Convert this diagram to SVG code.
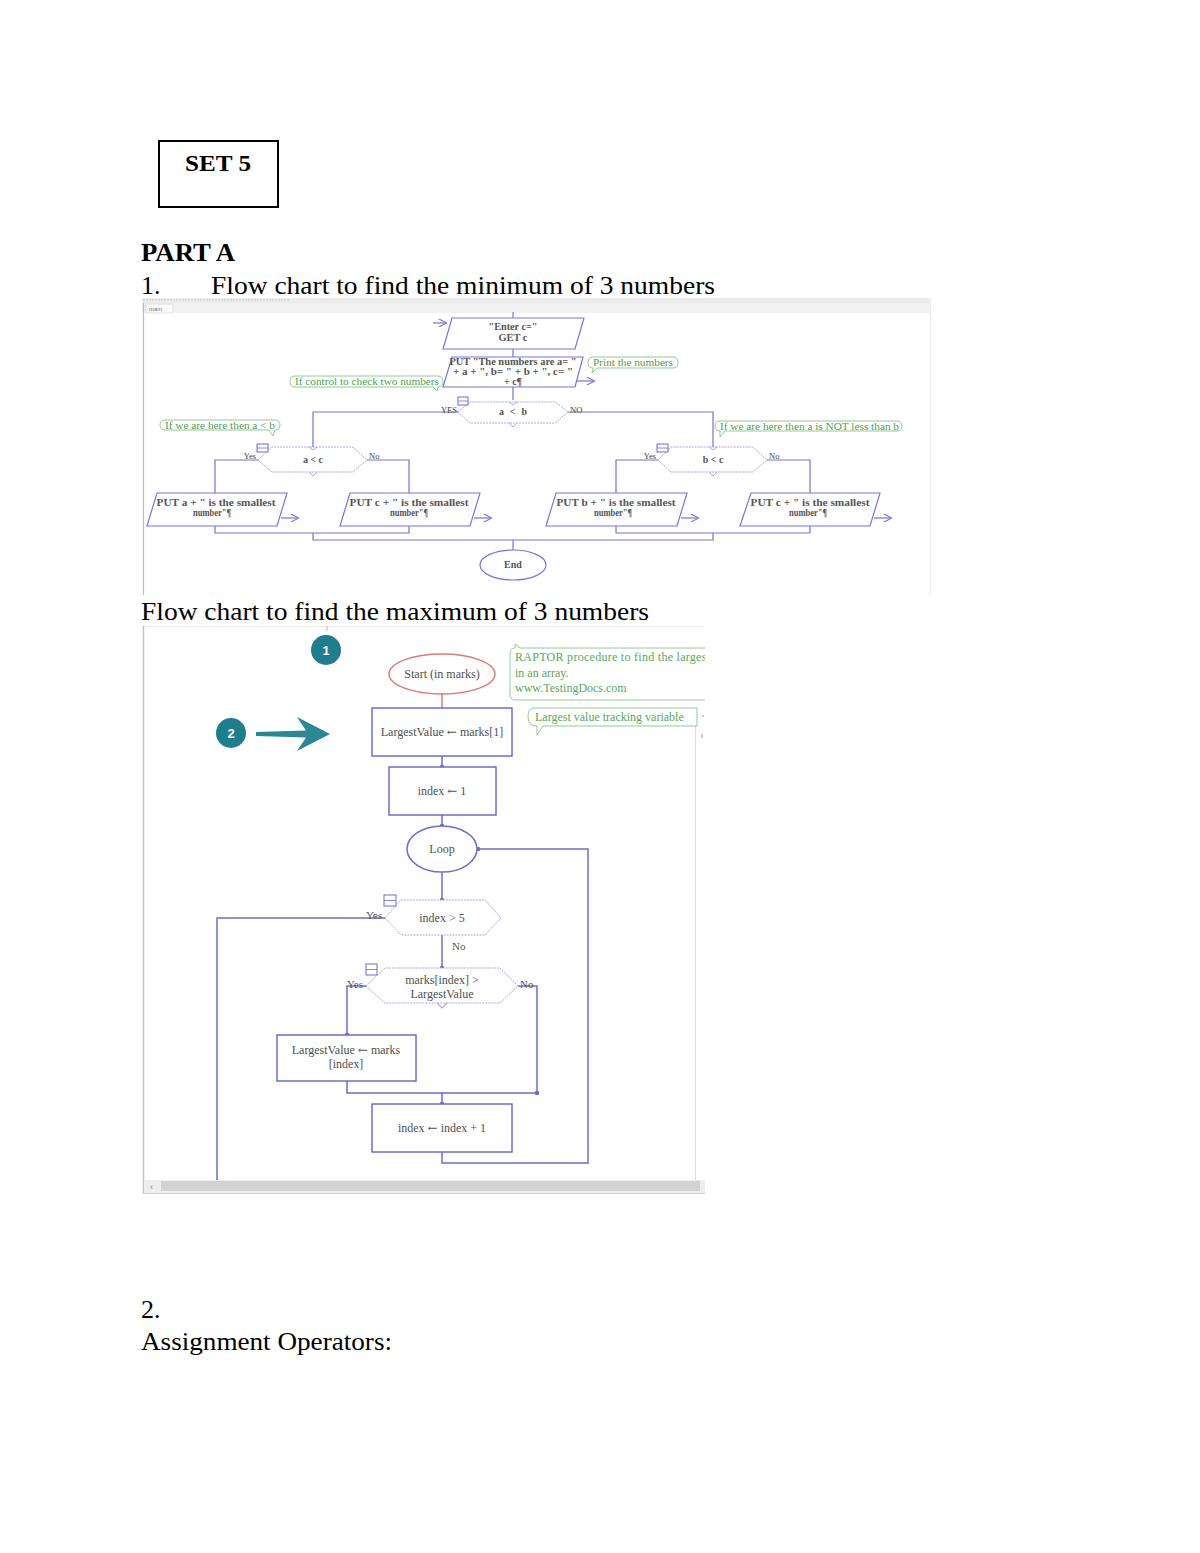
<svg xmlns="http://www.w3.org/2000/svg" width="1200" height="1553" viewBox="0 0 1200 1553">
<style>
.pg{fill:#000}
.b{font-weight:bold}
.t1{font-family:"Liberation Serif",serif;font-size:10px;font-weight:bold;fill:#555;text-anchor:middle}
.lb{font-family:"Liberation Serif",serif;font-size:8.5px;fill:#444}
.cm{font-family:"Liberation Serif",serif;font-size:10px;fill:#4f9f4f}
.cmb{fill:#fff;stroke:#93c993;stroke-width:1}
.sh{fill:#fff;stroke:#7676dc;stroke-width:1.2}
.dec{fill:#fff;stroke:#a7a7ea;stroke-width:1;stroke-dasharray:2 1}
.conn{fill:none;stroke:#7474dc;stroke-width:1.2}
.t2{font-family:"Liberation Serif",serif;font-size:12px;fill:#505050;text-anchor:middle}
.ar{font-family:"DejaVu Serif",serif}
.lb2{font-family:"Liberation Serif",serif;font-size:11px;fill:#555}
.cm2{font-family:"Liberation Serif",serif;font-size:12px;fill:#5aa85a}
.sh2{fill:#fff;stroke:#6c6cd8;stroke-width:1.5}
.conn2{fill:none;stroke:#6c6cd8;stroke-width:1.5}
.ico{fill:#fff;stroke:#6c6cd8;stroke-width:1}
</style>
<defs>
<marker id="oa" viewBox="0 0 10 10" refX="9" refY="5" markerWidth="7" markerHeight="7" orient="auto"><path d="M0,0 L10,5 L0,10" fill="none" stroke="#7474dc" stroke-width="1.3"/></marker>
<marker id="dot" viewBox="0 0 6 6" refX="3" refY="3" markerWidth="3" markerHeight="3"><circle cx="3" cy="3" r="3" fill="#6c6cd8"/></marker>
<clipPath id="clip2"><rect x="142" y="626" width="563" height="568"/></clipPath>
</defs>
<rect width="1200" height="1553" fill="#fff"/>

<!-- Page headings -->
<g id="headings" font-family="Liberation Serif, Times New Roman, serif">
<g id="set5">
<rect x="159" y="141" width="119" height="66" fill="none" stroke="#000" stroke-width="2"/>
<text class="pg b" x="185" y="171" font-size="24" textLength="66" lengthAdjust="spacingAndGlyphs">SET 5</text>
</g>
<text class="pg b" x="141" y="261" font-size="25" textLength="94" lengthAdjust="spacingAndGlyphs">PART A</text>
<text class="pg" x="141" y="294" font-size="26">1.</text>
<text class="pg" x="211" y="294" font-size="26" textLength="504" lengthAdjust="spacingAndGlyphs">Flow chart to find the minimum of 3 numbers</text>
<text class="pg" x="141" y="620" font-size="26" textLength="508" lengthAdjust="spacingAndGlyphs">Flow chart to find the maximum of 3 numbers</text>
<text class="pg" x="141" y="1318" font-size="26">2.</text>
<text class="pg" x="141" y="1350" font-size="26" textLength="251" lengthAdjust="spacingAndGlyphs">Assignment Operators:</text>
</g>

<!-- ===== Flowchart 1 frame ===== -->
<g id="frame1">
<rect x="142" y="298" width="789" height="297" fill="#fff"/>
<rect x="142" y="298" width="789" height="5" fill="#ececec"/>
<line x1="143" y1="300" x2="290" y2="300" stroke="#c8c8c8" stroke-width="1" stroke-dasharray="2 1"/>
<rect x="142" y="303" width="789" height="10" fill="#f1f1f1"/>
<rect x="146" y="304" width="27" height="9" fill="#fafafa" stroke="#cfcfcf" stroke-width="0.6"/>
<text x="149" y="311" font-family="Liberation Sans,sans-serif" font-size="6" fill="#777">main</text>
<line x1="143.5" y1="303" x2="143.5" y2="595" stroke="#bdbdbd" stroke-width="1.2"/>
<line x1="930.5" y1="303" x2="930.5" y2="595" stroke="#ececec" stroke-width="1"/>
</g>

<g id="conn1" class="conn">
<path d="M513,312 V318"/>
<path d="M433,323 H446" marker-end="url(#oa)"/>
<path d="M513,349 V357"/>
<path d="M577,381 H594" marker-end="url(#oa)"/>
<path d="M513,387 V400"/>
<path d="M458,412 H313 V447"/>
<path d="M568,412 H713 V447"/>
<path d="M258,460 H215 V493"/>
<path d="M367,460 H409 V493"/>
<path d="M658,460 H616 V493"/>
<path d="M767,460 H810 V493"/>
<path d="M281,518 H298" marker-end="url(#oa)"/>
<path d="M474,518 H491" marker-end="url(#oa)"/>
<path d="M681,518 H698" marker-end="url(#oa)"/>
<path d="M874,518 H891" marker-end="url(#oa)"/>
<path d="M215,526 V533 H409 V526"/>
<path d="M616,526 V533 H810 V526"/>
<path d="M313,533 V540 H713 V533"/>
<path d="M513,540 V550"/>
</g>

<g id="in1">
<polygon class="sh" points="452,318 584,318 575,349 443,349"/>
<text class="t1" x="513" y="330" textLength="49" lengthAdjust="spacingAndGlyphs">"Enter c="</text>
<text class="t1" x="513" y="341" textLength="29" lengthAdjust="spacingAndGlyphs">GET c</text>
</g>
<g id="out1">
<polygon class="sh" points="452,357 583,357 575,387 443,387"/>
<text class="t1" x="513" y="365" textLength="127" lengthAdjust="spacingAndGlyphs">PUT "The numbers are a= "</text>
<text class="t1" x="513" y="375" textLength="120" lengthAdjust="spacingAndGlyphs">+ a + ", b= " + b + ", c= "</text>
<text class="t1" x="513" y="385">+ c¶</text>
</g>
<g id="dec_ab">
<polygon class="dec" points="458,412 470,402 555,402 568,412 555,423 470,423"/>
<path d="M509,402 L513,405 L517,402 M509,423 L513,427 L517,423" fill="none" stroke="#a7a7ea" stroke-width="1"/>
<rect class="ico" x="458" y="397" width="10" height="8"/><line x1="458" y1="401" x2="468" y2="401" stroke="#6c6cd8" stroke-width="0.8"/>
<text class="t1" x="513" y="415" textLength="28" lengthAdjust="spacing">a &lt; b</text>
<text class="lb" x="457" y="413" text-anchor="end">YES</text>
<text class="lb" x="570" y="413">NO</text>
</g>
<g id="dec_ac">
<polygon class="dec" points="258,460 272,447 353,447 367,460 353,472 272,472"/>
<path d="M309,447 L313,450 L317,447 M309,472 L313,476 L317,472" fill="none" stroke="#a7a7ea" stroke-width="1"/>
<rect class="ico" x="257" y="444" width="11" height="8"/><line x1="257" y1="448" x2="268" y2="448" stroke="#6c6cd8" stroke-width="0.8"/>
<text class="t1" x="313" y="463">a &lt; c</text>
<text class="lb" x="256" y="459" text-anchor="end">Yes</text>
<text class="lb" x="369" y="459">No</text>
</g>
<g id="dec_bc">
<polygon class="dec" points="658,460 671,447 753,447 767,460 753,472 671,472"/>
<path d="M709,447 L713,450 L717,447 M709,472 L713,476 L717,472" fill="none" stroke="#a7a7ea" stroke-width="1"/>
<rect class="ico" x="657" y="444" width="11" height="8"/><line x1="657" y1="448" x2="668" y2="448" stroke="#6c6cd8" stroke-width="0.8"/>
<text class="t1" x="713" y="463">b &lt; c</text>
<text class="lb" x="656" y="459" text-anchor="end">Yes</text>
<text class="lb" x="769" y="459">No</text>
</g>
<g id="put_a">
<polygon class="sh" points="157,493 287,493 277,526 147,526"/>
<text class="t1" x="216" y="506" textLength="119" lengthAdjust="spacingAndGlyphs">PUT a  +  " is the smallest</text>
<text class="t1" x="212" y="516" textLength="38" lengthAdjust="spacingAndGlyphs">number"¶</text>
</g>
<g id="put_c1">
<polygon class="sh" points="350,493 480,493 470,526 340,526"/>
<text class="t1" x="409" y="506" textLength="119" lengthAdjust="spacingAndGlyphs">PUT c  +  " is the smallest</text>
<text class="t1" x="409" y="516" textLength="38" lengthAdjust="spacingAndGlyphs">number"¶</text>
</g>
<g id="put_b">
<polygon class="sh" points="556,493 687,493 677,526 546,526"/>
<text class="t1" x="616" y="506" textLength="119" lengthAdjust="spacingAndGlyphs">PUT b  +  " is the smallest</text>
<text class="t1" x="613" y="516" textLength="38" lengthAdjust="spacingAndGlyphs">number"¶</text>
</g>
<g id="put_c2">
<polygon class="sh" points="751,493 880,493 870,526 740,526"/>
<text class="t1" x="810" y="506" textLength="119" lengthAdjust="spacingAndGlyphs">PUT c  +  " is the smallest</text>
<text class="t1" x="808" y="516" textLength="38" lengthAdjust="spacingAndGlyphs">number"¶</text>
</g>
<g id="end1">
<ellipse class="sh" cx="513" cy="565" rx="33" ry="15"/>
<text class="t1" x="513" y="568">End</text>
</g>
<g id="c_print">
<path class="cmb" d="M593,357 H673 Q678,357 678,362.5 Q678,368 673,368 H597 L592,373 L593,368 Q588,368 588,362.5 Q588,357 593,357 Z"/>
<text class="cm" x="593" y="365.5" textLength="80" lengthAdjust="spacingAndGlyphs">Print the numbers</text>
</g>
<g id="c_if">
<path class="cmb" d="M295,376 H438 Q443,376 443,381.5 Q443,387 438,387 L437,391 L433,387 H295 Q290,387 290,381.5 Q290,376 295,376 Z"/>
<text class="cm" x="295" y="384.5" textLength="144" lengthAdjust="spacingAndGlyphs">If control to check two numbers</text>
</g>
<g id="c_alb">
<path class="cmb" d="M165,420 H275 Q280,420 280,425 Q280,430 275,430 L273,436 L269,430 H165 Q160,430 160,425 Q160,420 165,420 Z"/>
<text class="cm" x="165" y="428.5" textLength="110" lengthAdjust="spacingAndGlyphs">If we are here then a &lt; b</text>
</g>
<g id="c_anl">
<path class="cmb" d="M720,421 H897 Q902,421 902,426 Q902,431 897,431 H725 L720,437 L720,431 Q715,431 715,426 Q715,421 720,421 Z"/>
<text class="cm" x="720" y="429.5" textLength="179" lengthAdjust="spacingAndGlyphs">If we are here then a is NOT less than b</text>
</g>

<!-- ===== Flowchart 2 frame ===== -->
<g id="frame2">
<rect x="142" y="626" width="563" height="568" fill="#fff"/>
<line x1="142" y1="626.5" x2="705" y2="626.5" stroke="#eeeeee" stroke-width="1"/>
<line x1="143.5" y1="626" x2="143.5" y2="1193" stroke="#c4c4c4" stroke-width="1.5"/>
<line x1="327" y1="626" x2="327" y2="631" stroke="#bbb" stroke-width="1"/>
<line x1="695.5" y1="712" x2="695.5" y2="1180" stroke="#dedede" stroke-width="1"/>
<line x1="702" y1="716" x2="704" y2="716" stroke="#999" stroke-width="1"/>
<line x1="702" y1="734" x2="702" y2="738" stroke="#999" stroke-width="1"/>
<rect x="145" y="1180" width="560" height="13" fill="#eeeeee"/>
<rect x="161" y="1181" width="539" height="10" fill="#d2d2d2"/>
<text x="150" y="1190" font-family="Liberation Sans,sans-serif" font-size="9" fill="#777">‹</text>
<line x1="142" y1="1193.5" x2="705" y2="1193.5" stroke="#d0d0d0" stroke-width="1"/>
</g>

<g id="conn2" class="conn2">
<path d="M442,694 V708" stroke="#e07a7a"/>
<path d="M442,756 V767" marker-end="url(#dot)"/>
<path d="M442,815 V826" marker-end="url(#dot)"/>
<path d="M442,872 V900" marker-end="url(#dot)"/>
<path d="M442,1152 V1163 H588 V849 H478" marker-end="url(#dot)"/>
<path d="M385,918 H217 V1180"/>
<path d="M442,935 V968" marker-end="url(#dot)"/>
<path d="M366,986 H347 V1035" marker-end="url(#dot)"/>
<path d="M518,986 H537 V1093" marker-end="url(#dot)"/>
<path d="M347,1081 V1093 H537"/>
<path d="M442,1093 V1104" marker-end="url(#dot)"/>
</g>

<g id="badge1">
<circle cx="326" cy="650" r="15" fill="#1f7e8c"/>
<text x="326" y="655" font-family="Liberation Sans,sans-serif" font-size="13" font-weight="bold" fill="#fff" text-anchor="middle">1</text>
</g>
<g id="badge2">
<circle cx="231" cy="733" r="15" fill="#1f7e8c"/>
<text x="231" y="738" font-family="Liberation Sans,sans-serif" font-size="13" font-weight="bold" fill="#fff" text-anchor="middle">2</text>
<path d="M256,732 L306,730.5 L297,717 L330,734 L297,751 L306,737.5 L256,736 Z" fill="#2a8794"/>
</g>
<g id="start2">
<ellipse cx="442" cy="674" rx="53" ry="20" fill="#fff" stroke="#e07a7a" stroke-width="1.5"/>
<text class="t2" x="442" y="678">Start (in marks)</text>
</g>
<g id="lv1">
<rect class="sh2" x="372" y="708" width="140" height="48"/>
<text class="t2" x="442" y="736">LargestValue <tspan class="ar">←</tspan> marks[1]</text>
</g>
<g id="idx1">
<rect class="sh2" x="389" y="767" width="107" height="48"/>
<text class="t2" x="442" y="795">index <tspan class="ar">←</tspan> 1</text>
</g>
<g id="loop">
<ellipse class="sh2" cx="442" cy="849" rx="35" ry="23"/>
<text class="t2" x="442" y="853">Loop</text>
</g>
<g id="dec_idx">
<polygon class="dec" points="385,918 401,900 485,900 501,918 485,935 401,935" stroke-width="1.2"/>
<rect class="ico" x="384" y="895" width="12" height="11"/><line x1="384" y1="900.5" x2="396" y2="900.5" stroke="#6c6cd8" stroke-width="0.8"/>
<text class="t2" x="442" y="922">index &gt; 5</text>
<text class="lb2" x="382" y="919" text-anchor="end">Yes</text>
<text class="lb2" x="452" y="950">No</text>
</g>
<g id="dec_mk">
<polygon class="dec" points="366,986 385,968 500,968 518,986 500,1003 385,1003" stroke-width="1.2"/>
<path d="M437,1003 L442,1008 L447,1003" fill="none" stroke="#a7a7ea" stroke-width="1.2"/>
<rect class="ico" x="366" y="964" width="11" height="11"/><line x1="366" y1="969.5" x2="377" y2="969.5" stroke="#6c6cd8" stroke-width="0.8"/>
<text class="t2" x="442" y="984">marks[index] &gt;</text>
<text class="t2" x="442" y="998">LargestValue</text>
<text class="lb2" x="363" y="988" text-anchor="end">Yes</text>
<text class="lb2" x="520" y="988">No</text>
</g>
<g id="lv2">
<rect class="sh2" x="277" y="1035" width="139" height="46"/>
<text class="t2" x="346" y="1054">LargestValue <tspan class="ar">←</tspan> marks</text>
<text class="t2" x="346" y="1068">[index]</text>
</g>
<g id="idx2">
<rect class="sh2" x="372" y="1104" width="140" height="48"/>
<text class="t2" x="442" y="1132">index  <tspan class="ar">←</tspan> index  +  1</text>
</g>
<g id="c_raptor" clip-path="url(#clip2)">
<path class="cmb" d="M515,648 V644 L520,648 H710 V700 H516 Q510,700 510,694 V654 Q510,648 515,648 Z" stroke-width="1.2"/>
<text class="cm2" x="515" y="661" textLength="195" lengthAdjust="spacing">RAPTOR procedure to find the largest</text>
<text class="cm2" x="515" y="677">in an array.</text>
<text class="cm2" x="515" y="692">www.TestingDocs.com</text>
</g>
<g id="c_track">
<path class="cmb" d="M534,708 H697 V726 H543 L537,735 L537,726 Q528,726 528,717 Q528,708 534,708 Z" stroke-width="1.2"/>
<text class="cm2" x="535" y="721">Largest value tracking variable</text>
</g>
</svg>
